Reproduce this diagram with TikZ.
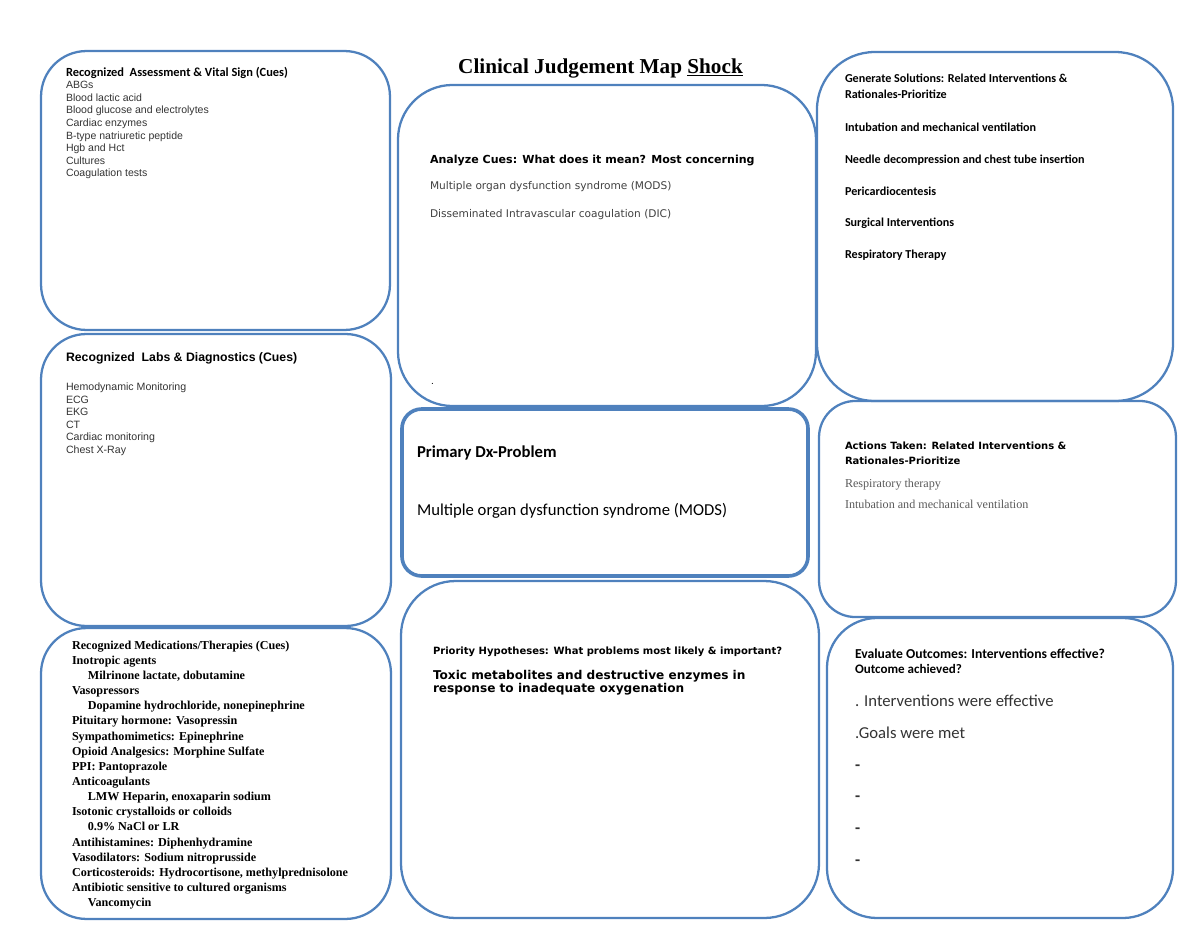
\documentclass[tikz,border=0pt]{standalone}
\usepackage{fontspec}
\setmainfont{Liberation Serif}
\newfontfamily\carlito{Carlito}
\newfontfamily\arialfont{Liberation Sans}
\newfontfamily\timesfont{Liberation Serif}
\newfontfamily\verdanafont{DejaVu Sans}
\usepackage{tikz}
\usetikzlibrary{positioning}
\definecolor{mapblue}{HTML}{4F81BD}
\tikzset{
    judgement map/.style={
            x=0.66pt, y=-0.66pt,
            every node/.style={inner sep=0pt, outer sep=0pt},
            mapbox/.style={draw=mapblue, line width=1.5pt, rounded corners=30pt},
            cuetext/.style={anchor=north west, align=left}
        }
    }

\begin{document}
\begin{tikzpicture}[judgement map]
        \useasboundingbox (0,0) rectangle (1200,927);

        % the nine boxes
        \node (assess) [mapbox, minimum width=230.3pt, minimum height=184.1pt] at (215.5,190.5) {};
        \node (labs) [mapbox, minimum width=231pt, minimum height=192.7pt] at (216,480) {};
        \node (meds) [mapbox, minimum width=231pt, minimum height=192pt] at (216,773.5) {};
        \node (analyze) [mapbox, rounded corners=36pt, minimum width=275.9pt, minimum height=211.9pt] at (607,245.5) {};
        \node (primary) [mapbox, line width=2.4pt, rounded corners=13pt, minimum width=268pt, minimum height=110.2pt] at (605,492.5) {};
        \node (hypo) [mapbox, rounded corners=36pt, minimum width=275.9pt, minimum height=222.4pt] at (610,749.5) {};
        \node (solutions) [mapbox, rounded corners=38pt, minimum width=235pt, minimum height=230.3pt] at (995,226.5) {};
        \node (actions) [mapbox, rounded corners=24pt, minimum width=235.6pt, minimum height=142.6pt] at (997.5,509) {};
        \node (outcomes) [mapbox, rounded corners=33pt, minimum width=228.4pt, minimum height=198pt] at (1000,768) {};

        \node (title) [anchor=base, font=\timesfont\bfseries\fontsize{14}{16}\selectfont] at (600.5,73) {Clinical Judgement Map \underline{Shock}};

        % left column
        \node (assessText) [cuetext, text=black!80, font=\arialfont\fontsize{6.95}{8.3}\selectfont] at (66,67)
            {{\carlito\bfseries\color{black}\fontsize{8.2}{8.3}\selectfont Recognized\ \ Assessment \& Vital Sign (Cues)}\\
             ABGs\\ Blood lactic acid\\ Blood glucose and electrolytes\\ Cardiac enzymes\\
             B-type natriuretic peptide\\ Hgb and Hct\\ Cultures\\ Coagulation tests};
        \node (labsHead) [cuetext, font=\arialfont\bfseries\fontsize{8.1}{9}\selectfont] at (66,353)
            {Recognized\ \ Labs \& Diagnostics (Cues)};
        \node (labsList) [cuetext, text=black!80, font=\arialfont\fontsize{7}{8.2}\selectfont] at (66,383.3)
            {Hemodynamic Monitoring\\ ECG\\ EKG\\ CT\\ Cardiac monitoring\\ Chest X-Ray};
        \node (medsText) [cuetext, font=\timesfont\bfseries\fontsize{8}{10}\selectfont] at (72,640.7)
            {Recognized Medications/Therapies (Cues)\\
             Inotropic agents\\ \hspace*{10.5pt}Milrinone lactate, dobutamine\\
             Vasopressors\\ \hspace*{10.5pt}Dopamine hydrochloride, nonepinephrine\\
             Pituitary hormone: Vasopressin\\ Sympathomimetics: Epinephrine\\
             Opioid Analgesics: Morphine Sulfate\\ PPI: Pantoprazole\\
             Anticoagulants\\ \hspace*{10.5pt}LMW Heparin, enoxaparin sodium\\
             Isotonic crystalloids or colloids\\ \hspace*{10.5pt}0.9\% NaCl or LR\\
             Antihistamines: Diphenhydramine\\ Vasodilators: Sodium nitroprusside\\
             Corticosteroids: Hydrocortisone, methylprednisolone\\
             Antibiotic sensitive to cultured organisms\\ \hspace*{10.5pt}Vancomycin};

        % middle column
        \node (analyzeHead) [cuetext, font=\verdanafont\bfseries\fontsize{7.3}{8}\selectfont] at (430,154.6)
            {Analyze Cues: What does it mean? Most concerning};
        \node (analyzeList) [cuetext, text=black!75, font=\verdanafont\fontsize{7}{18.5}\selectfont] at (430,181)
            {Multiple organ dysfunction syndrome (MODS)\\ Disseminated Intravascular coagulation (DIC)};
        \node (analyzeDot) [anchor=base west, font=\arialfont\fontsize{6.6}{8}\selectfont] at (431,384) {.};
        \node (primaryHead) [cuetext, font=\carlito\bfseries\fontsize{11}{13}\selectfont] at (417,446)
            {Primary Dx-Problem};
        \node (primaryText) [cuetext, font=\carlito\fontsize{11}{13}\selectfont] at (417,503)
            {Multiple organ dysfunction syndrome (MODS)};
        \node (hypoHead) [cuetext, font=\verdanafont\bfseries\fontsize{6.6}{7.5}\selectfont] at (433,646.4)
            {Priority Hypotheses: What problems most likely \& important?};
        \node (hypoText) [cuetext, font=\verdanafont\bfseries\fontsize{8}{9.2}\selectfont] at (433,669.8)
            {Toxic metabolites and destructive enzymes in\\ response to inadequate oxygenation};

        % right column
        \node (solHead) [cuetext, font=\carlito\bfseries\fontsize{8}{10.6}\selectfont] at (845,74)
            {Generate Solutions: Related Interventions \&\\ Rationales-Prioritize};
        \node (solList) [cuetext, font=\carlito\bfseries\fontsize{8}{21}\selectfont] at (845,123)
            {Intubation and mechanical ventilation\\ Needle decompression and chest tube insertion\\
             Pericardiocentesis\\ Surgical Interventions\\ Respiratory Therapy};
        \node (actHead) [cuetext, font=\verdanafont\bfseries\fontsize{6.6}{9.9}\selectfont] at (845,441.4)
            {Actions Taken: Related Interventions \&\\ Rationales-Prioritize};
        \node (actList) [cuetext, text=black!65, font=\timesfont\fontsize{8}{13.9}\selectfont] at (845,478.8)
            {Respiratory therapy\\ Intubation and mechanical ventilation};
        \node (outHead) [cuetext, font=\carlito\bfseries\fontsize{9}{9.9}\selectfont] at (855,648.5)
            {Evaluate Outcomes: Interventions effective?\\ {\fontsize{8.6}{9.9}\selectfont Outcome achieved?}};
        \node (outList) [cuetext, text=black!80, font=\carlito\fontsize{11}{21}\selectfont] at (855,695)
            {. Interventions were effective\\ .Goals were met\\ {\bfseries -}\\ {\bfseries -}\\ {\bfseries -}\\ {\bfseries -}};
    \end{tikzpicture}
\end{document}
